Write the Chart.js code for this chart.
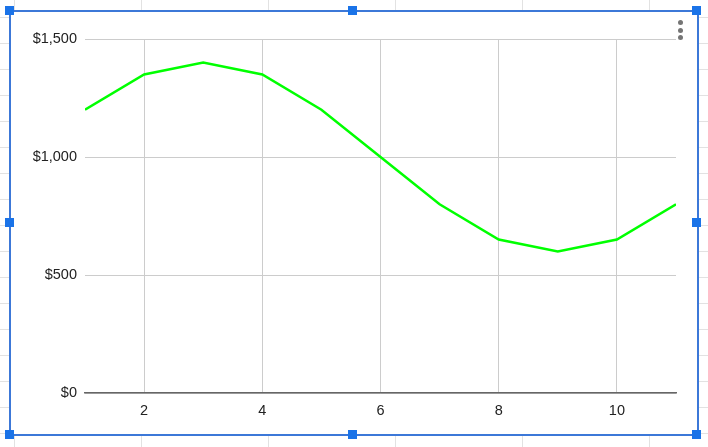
<!DOCTYPE html>
<html>
<head>
<meta charset="utf-8">
<script src="https://cdn.jsdelivr.net/npm/chart.js@4"></script>
<style>
  html, body { margin: 0; padding: 0; }
  body {
    width: 708px; height: 447px; position: relative; overflow: hidden;
    background-color: #fff;
    background-image:
      repeating-linear-gradient(to right, transparent 0, transparent 14px, #e2e2e2 14px, #e2e2e2 15px, transparent 15px, transparent 127px),
      repeating-linear-gradient(to bottom, transparent 0, transparent 17px, #e2e2e2 17px, #e2e2e2 18px, transparent 18px, transparent 26px);
  }
  #frame {
    position: absolute; left: 9px; top: 10px; width: 686px; height: 422px;
    border: 2px solid #3c78d8; background: #fff;
  }
  #wrap { position: absolute; left: 0; top: 0; width: 686px; height: 422px; }
  .h { position: absolute; width: 9px; height: 9px; background: #1a73e8; }
  .dots { position: absolute; left: 667px; top: 8px; }
  .dots span { display: block; width: 5px; height: 5px; border-radius: 50%; background: #757575; margin-bottom: 2.5px; }
</style>
</head>
<body>
<div id="frame">
  <div id="wrap"><canvas id="chart"></canvas></div>
  <div class="dots"><span></span><span></span><span></span></div>
</div>
<div class="h" style="left:5px;top:6px"></div>
<div class="h" style="left:348px;top:6px"></div>
<div class="h" style="left:692px;top:6px"></div>
<div class="h" style="left:5px;top:218px"></div>
<div class="h" style="left:692px;top:218px"></div>
<div class="h" style="left:5px;top:430px"></div>
<div class="h" style="left:348px;top:430px"></div>
<div class="h" style="left:692px;top:430px"></div>
<script>
const xValues = [1, 2, 3, 4, 5, 6, 7, 8, 9, 10, 11];
const yValues = [1200, 1350, 1400, 1350, 1200, 1000, 800, 650, 600, 650, 800];
const xTicks = [2, 4, 6, 8, 10];
const yTicks = [0, 500, 1000, 1500];

const font = { family: "'Liberation Sans', Arial, sans-serif", size: 14.5 };

new Chart(document.getElementById('chart'), {
  type: 'line',
  data: {
    datasets: [{
      data: xValues.map((x, i) => ({ x: x, y: yValues[i] })),
      borderColor: '#00ff00',
      borderWidth: 2.5,
      pointRadius: 0,
      tension: 0,
      fill: false
    }]
  },
  options: {
    responsive: true,
    maintainAspectRatio: false,
    animation: false,
    layout: { padding: { left: 0, top: 27, right: 21, bottom: 0 } },
    plugins: { legend: { display: false }, tooltip: { enabled: false } },
    scales: {
      x: {
        type: 'linear',
        min: 1,
        max: 11,
        afterBuildTicks: scale => { scale.ticks = xTicks.map(v => ({ value: v })); },
        afterFit: scale => { scale.height = 41; },
        grid: { color: '#cccccc', lineWidth: 1, drawTicks: false },
        border: { display: true, color: '#666666', width: 1.5 },
        ticks: { font: font, color: '#222222', padding: 9, maxRotation: 0 }
      },
      y: {
        min: 0,
        max: 1500,
        afterBuildTicks: scale => { scale.ticks = yTicks.map(v => ({ value: v })); },
        afterFit: scale => { scale.width = 74; },
        grid: { color: '#cccccc', lineWidth: 1, drawTicks: false },
        border: { display: false },
        ticks: {
          font: font, color: '#222222', padding: 8,
          callback: v => '$' + v.toLocaleString('en-US')
        }
      }
    }
  }
});
</script>
</body>
</html>
